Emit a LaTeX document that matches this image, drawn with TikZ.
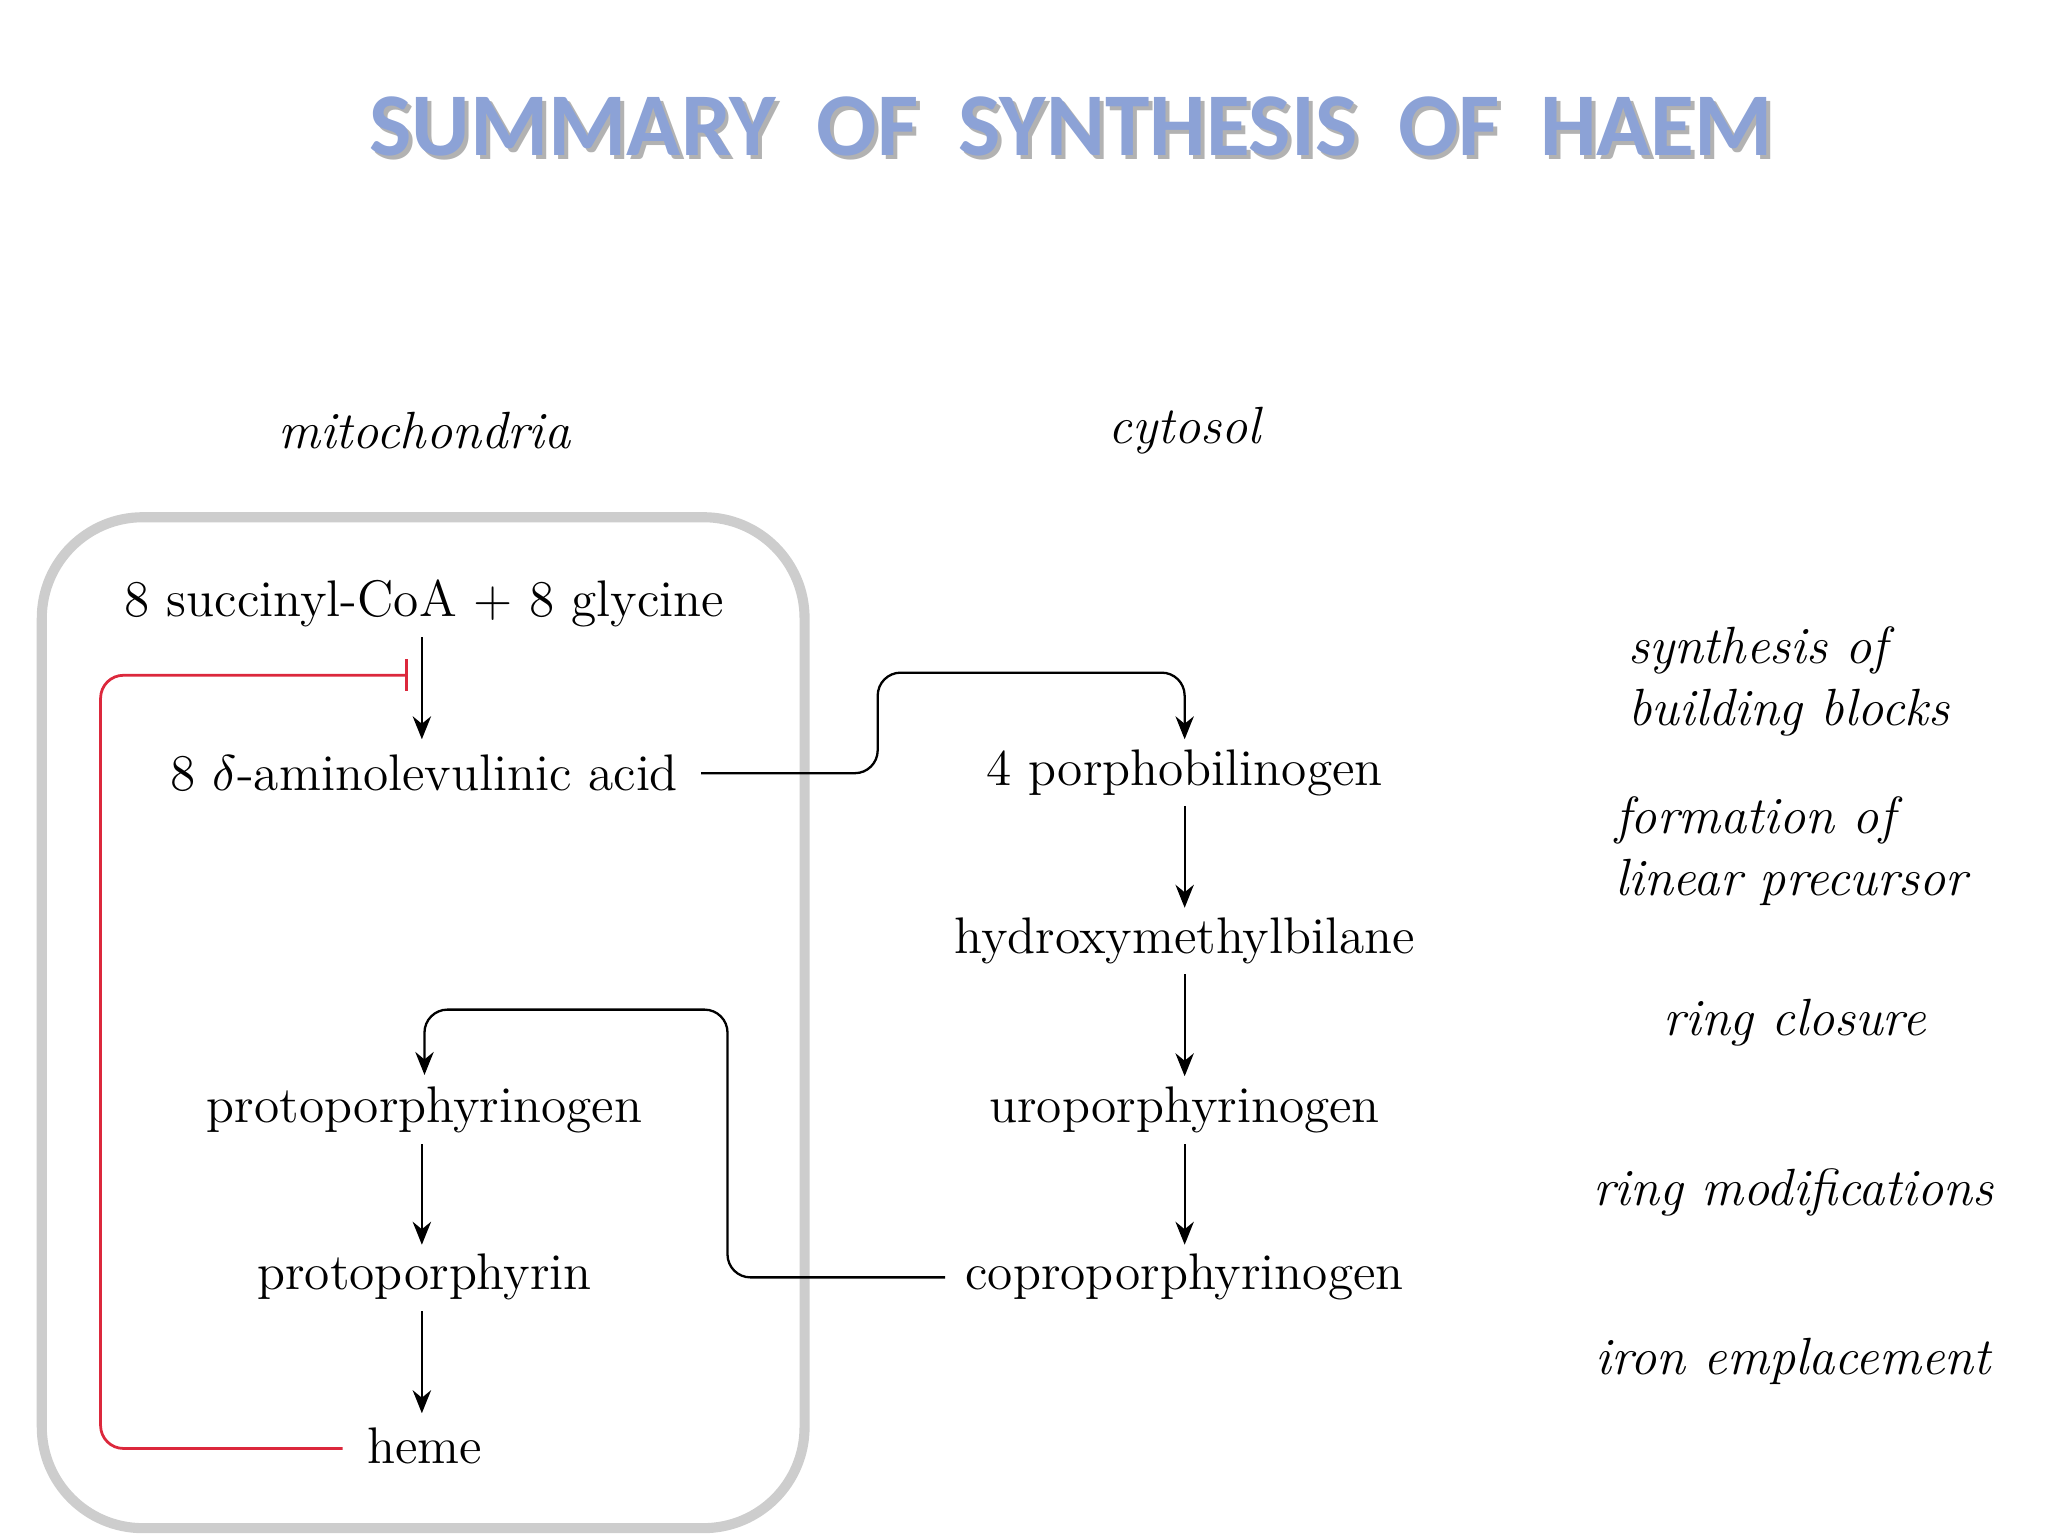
\documentclass[tikz,border=0pt]{standalone}
\usepackage{fontspec}
\newfontfamily\titlefont{Carlito}
\usetikzlibrary{arrows.meta}
\definecolor{titleblue}{RGB}{140,162,214}
\definecolor{boxgray}{RGB}{205,205,205}
\definecolor{inhred}{RGB}{220,40,60}
\begin{document}
\begin{tikzpicture}[x=0.01cm,y=-0.01cm,
  lbl/.style={inner sep=0pt,font=\fontsize{11.2}{13}\selectfont},
  side/.style={inner sep=0pt,font=\fontsize{11.4}{13.5}\selectfont\itshape,align=left},
  arr/.style={-{Stealth[length=5pt,width=4pt]},line width=0.5pt},
  conn/.style={line width=0.5pt,rounded corners=5pt}]
\useasboundingbox (0,0) rectangle (1568,1176);
\node[font=\titlefont\bfseries\fontsize{19.5}{22}\selectfont,text=black!30,inner sep=0pt] at (823,100) {SUMMARY\ \ OF\ \ SYNTHESIS\ \ OF\ \ HAEM};
\node[font=\titlefont\bfseries\fontsize{19.5}{22}\selectfont,text=titleblue,inner sep=0pt] (title) at (820,97) {SUMMARY\ \ OF\ \ SYNTHESIS\ \ OF\ \ HAEM};
\draw[boxgray,line width=2.2pt,rounded corners=22pt] (32,396) rectangle (616,1170);
\node[side] (mito) at (325,330) {mitochondria};
\node[side] (cyto) at (907,330) {cytosol};
\node[lbl] (succ) at (325,462) {8 succinyl-CoA + 8 glycine};
\node[lbl] (ala) at (325,592) {8 $\delta$-aminolevulinic acid};
\node[lbl] (pbg) at (907,592) {4 porphobilinogen};
\node[lbl] (hmb) at (907,720) {hydroxymethylbilane};
\node[lbl] (uro) at (907,850) {uroporphyrinogen};
\node[lbl] (copro) at (907,978) {coproporphyrinogen};
\node[lbl] (pgen) at (325,850) {protoporphyrinogen};
\node[lbl] (proto) at (325,978) {protoporphyrin};
\node[lbl] (heme) at (325,1107) {heme};
\node[side,anchor=west] (s1) at (1246,522) {synthesis of\\building blocks};
\node[side,anchor=west] (s2) at (1236,652) {formation of\\linear precursor};
\node[side] (s3) at (1374,783) {ring closure};
\node[side] (s4) at (1373,913) {ring modifications};
\node[side] (s5) at (1373,1042) {iron emplacement};
\draw[arr] (323,488) -- (323,566);
\draw[arr] (907,617) -- (907,695);
\draw[arr] (907,746) -- (907,824);
\draw[arr] (907,876) -- (907,953);
\draw[arr] (323,876) -- (323,953);
\draw[arr] (323,1004) -- (323,1082);
\draw[arr,conn] (ala.east)++(17,0) -- (672,592) -- (672,515) -- (907,515) -- (907,566);
\draw[arr,conn] (copro.west)++(-15,0) -- (557,978) -- (557,773) -- (325,773) -- (325,823);
\draw[inhred,line width=0.6pt,rounded corners=5pt,-{Bar[width=7pt]}] (heme.west)++(-18,2) -- (77,1109) -- (77,517) -- (312,517);
\end{tikzpicture}
\end{document}
